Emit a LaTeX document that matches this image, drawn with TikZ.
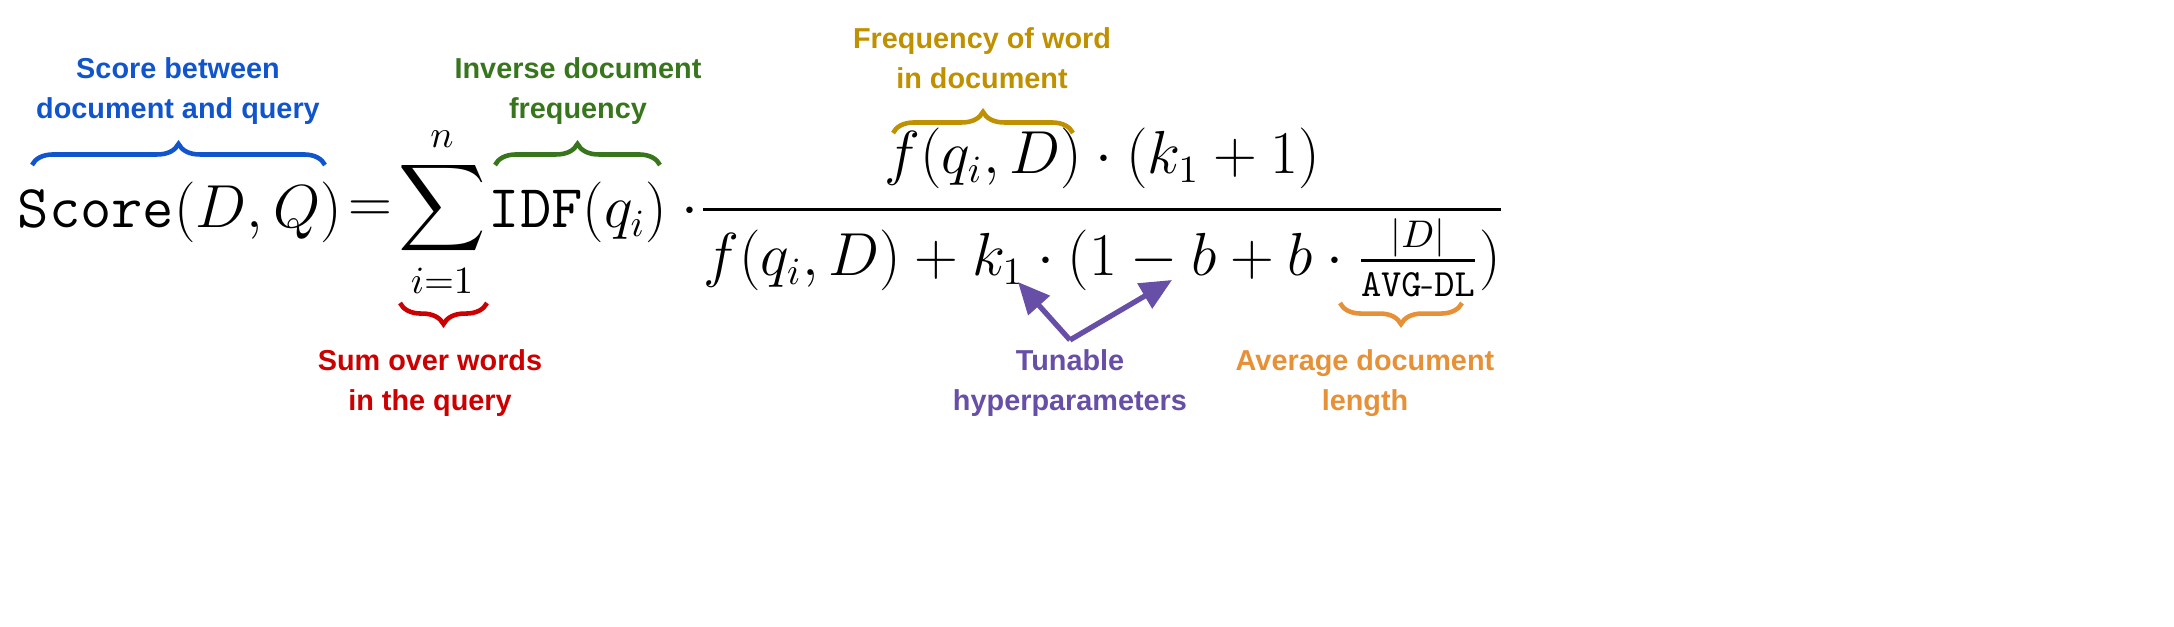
\documentclass[tikz,border=0pt]{standalone}
\usepackage{amsmath}
\usepackage[no-math]{fontspec}
\newfontfamily\labfont{Liberation Sans}
\usetikzlibrary{decorations.pathreplacing,arrows.meta}
\definecolor{cblue}{HTML}{1155CC}
\definecolor{cgreen}{HTML}{38761D}
\definecolor{cgold}{HTML}{BF9000}
\definecolor{cred}{HTML}{CC0000}
\definecolor{cpurple}{HTML}{674EA7}
\definecolor{corange}{HTML}{E69138}
\begin{document}
\begin{tikzpicture}[x=0.01cm,y=-0.01cm,
  math/.style={inner sep=0pt,font=\fontsize{16}{19}\selectfont},
  lab/.style={align=center,inner sep=0pt,font=\labfont\bfseries\fontsize{8.2}{11.5}\selectfont},
  br/.style={decorate,decoration={brace,amplitude=6pt},line width=1.3pt}]
\useasboundingbox (0,0) rectangle (2174,626);
\node[math] (score) at (180,212) {$\mathtt{Score}(D,Q)$};
\node[math] (eq) at (370,212) {$=$};
\node[math] (sum) at (442,212) {$\displaystyle\sum_{i=1}^{n}$};
\node[math] (idf) at (578,212) {$\mathtt{IDF}(q_i)$};
\node[math] (dot) at (690,212) {$\cdot$};
\node[math] (frac) at (1102,212) {$\displaystyle\frac{f(q_i,D)\cdot(k_1+1)\rule[-8pt]{0pt}{8pt}}{f(q_i,D)+k_1\cdot(1-b+b\cdot\frac{|D|}{\mathtt{AVG\text{-}DL}})}$};

\node[lab,text=cblue] (lblue) at (178,91) {Score between\\document and query};
\node[lab,text=cgreen] (lgreen) at (578,91) {Inverse document\\frequency};
\node[lab,text=cgold] (lgold) at (982,58) {Frequency of word\\in document};
\node[lab,text=cred] (lred) at (430,383) {Sum over words\\in the query};
\node[lab,text=cpurple] (lpurple) at (1070,383) {Tunable\\hyperparameters};
\node[lab,text=corange] (lorange) at (1365,383) {Average document\\length};

\coordinate (b1) at (32,165); \coordinate (b2) at (325,165);
\coordinate (g1) at (495,165); \coordinate (g2) at (660,165);
\coordinate (y1) at (893,133); \coordinate (y2) at (1073,133);
\coordinate (r1) at (400,303); \coordinate (r2) at (487,303);
\coordinate (o1) at (1340,303); \coordinate (o2) at (1462,303);
\coordinate (k1) at (1018,282); \coordinate (bb) at (1172,280);
\coordinate (pj) at (1070,340);
\draw[br,cblue] (b1) -- (b2);
\draw[br,cgreen] (g1) -- (g2);
\draw[br,cgold] (y1) -- (y2);
\draw[br,cred] (r2) -- (r1);
\draw[br,corange] (o2) -- (o1);
\draw[cpurple,line width=1.5pt,-{Triangle[length=9pt,width=8pt]}] (pj) -- (k1);
\draw[cpurple,line width=1.5pt,-{Triangle[length=9pt,width=8pt]}] (pj) -- (bb);
\end{tikzpicture}
\end{document}
